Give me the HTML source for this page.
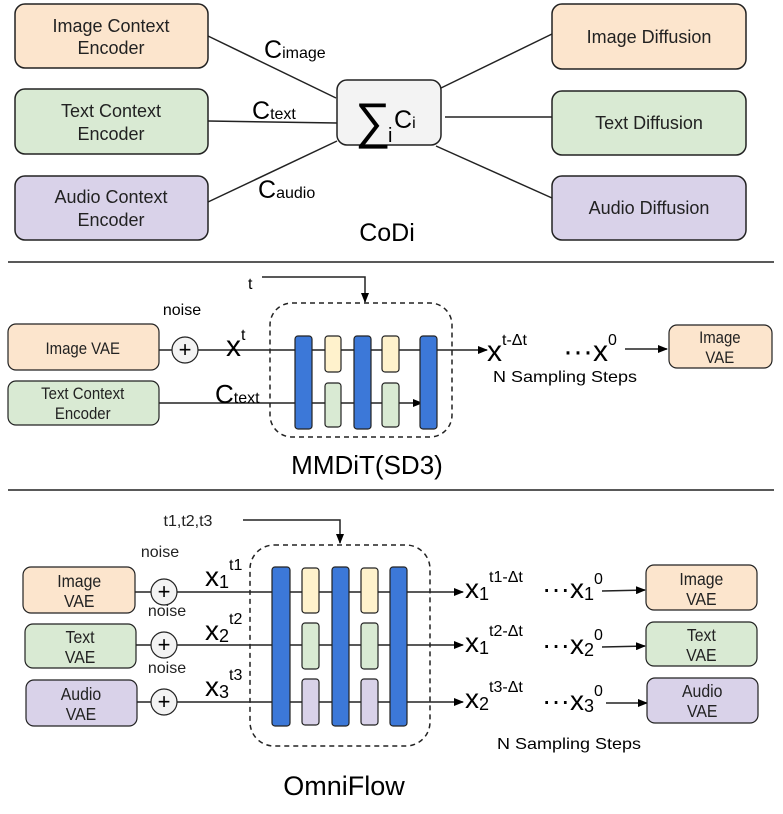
<!DOCTYPE html>
<html><head><meta charset="utf-8"><style>
html,body{margin:0;padding:0;background:#fff;}
svg{display:block;font-family:"Liberation Sans",Arial,sans-serif;}
</style></head><body>
<svg width="783" height="814" viewBox="0 0 783 814" xmlns="http://www.w3.org/2000/svg">
<defs>
<marker id="ar" markerWidth="10" markerHeight="8" refX="9" refY="4" orient="auto" markerUnits="userSpaceOnUse">
<path d="M0,0 L10,4 L0,8 z" fill="#000"/></marker>
</defs>
<g stroke="#222" stroke-width="1.5">
<rect x="15" y="4" width="193" height="64" rx="10" fill="#fce5cd"/>
<rect x="15" y="89" width="193" height="65" rx="10" fill="#d9ead3"/>
<rect x="15" y="176" width="193" height="64" rx="10" fill="#d9d2e9"/>
<rect x="552" y="4" width="194" height="65" rx="10" fill="#fce5cd"/>
<rect x="552" y="91" width="194" height="64" rx="10" fill="#d9ead3"/>
<rect x="552" y="176" width="194" height="64" rx="10" fill="#d9d2e9"/>
<line x1="208" y1="36" x2="336" y2="98"/>
<line x1="208" y1="121" x2="337" y2="123"/>
<line x1="208" y1="202" x2="337" y2="141"/>
<line x1="441" y1="88" x2="552" y2="34"/>
<line x1="445" y1="117" x2="552" y2="117"/>
<line x1="436" y1="146" x2="552" y2="198"/>
<rect x="337" y="80" width="104" height="65" rx="10" fill="#f3f3f3"/>
</g>
<g font-size="18" fill="#222" text-anchor="middle">
<text x="111" y="32">Image Context</text><text x="111" y="54">Encoder</text>
<text x="111" y="117">Text Context</text><text x="111" y="140">Encoder</text>
<text x="111" y="203">Audio Context</text><text x="111" y="226">Encoder</text>
<text x="649" y="43">Image Diffusion</text>
<text x="649" y="129">Text Diffusion</text>
<text x="649" y="214">Audio Diffusion</text>
</g>
<text x="264" y="58" font-size="25">C<tspan font-size="16">image</tspan></text>
<text x="252" y="119" font-size="25">C<tspan font-size="16">text</tspan></text>
<text x="258" y="198" font-size="25">C<tspan font-size="16">audio</tspan></text>
<text x="355" y="138" font-size="50">∑</text>
<text x="388" y="142" font-size="20">i</text>
<text x="394" y="128" font-size="25">C<tspan font-size="16">i</tspan></text>
<text x="387" y="241" font-size="25" text-anchor="middle">CoDi</text>
<line x1="8" y1="262" x2="774" y2="262" stroke="#222" stroke-width="1.5"/>

<g stroke="#222" stroke-width="1.5" fill="none">
<polyline points="262,277 365,277 365,302" marker-end="url(#ar)"/>
<rect x="270" y="303" width="182" height="134" rx="22" stroke-dasharray="5,4"/>
<line x1="159" y1="350" x2="487" y2="350" marker-end="url(#ar)"/>
<line x1="159" y1="403" x2="422" y2="403" marker-end="url(#ar)"/>
<line x1="625" y1="349" x2="667" y2="349" marker-end="url(#ar)"/>
</g>
<g stroke="#222" stroke-width="1.2">
<rect x="8" y="324" width="151" height="46" rx="8" fill="#fce5cd"/>
<rect x="8" y="381" width="151" height="44" rx="8" fill="#d9ead3"/>
<rect x="669" y="325" width="103" height="43" rx="8" fill="#fce5cd"/>
<circle cx="185" cy="350" r="13" fill="#f3f3f3"/>
<rect x="325" y="336" width="16" height="36" rx="3" fill="#fff2cc"/>
<rect x="382" y="336" width="17" height="36" rx="3" fill="#fff2cc"/>
<rect x="325" y="383" width="16" height="44" rx="3" fill="#d9ead3"/>
<rect x="382" y="383" width="17" height="44" rx="3" fill="#d9ead3"/>
<rect x="295" y="336" width="17" height="93" rx="3" fill="#3c78d8"/>
<rect x="354" y="336" width="17" height="93" rx="3" fill="#3c78d8"/>
<rect x="420" y="336" width="17" height="93" rx="3" fill="#3c78d8"/>
</g>
<text x="185" y="357" font-size="22" text-anchor="middle">+</text>
<g font-size="17" fill="#222" text-anchor="middle" transform="scale(0.88,1)">
<text x="94" y="354">Image VAE</text>
<text x="94" y="399">Text Context</text><text x="94" y="419">Encoder</text>
<text x="818" y="343">Image</text><text x="818" y="363">VAE</text>
</g>
<text x="248" y="289" font-size="16">t</text>
<text x="182" y="315" font-size="16" text-anchor="middle">noise</text>
<text x="226" y="356" font-size="30">x<tspan font-size="16" dy="-16">t</tspan></text>
<text x="215" y="403" font-size="26">C<tspan font-size="16">text</tspan></text>
<text x="487" y="361" font-size="30">x<tspan font-size="16" dy="-16">t-Δt</tspan></text>
<text x="563" y="361" font-size="30">···x<tspan font-size="16" dy="-16">0</tspan></text>
<text x="493" y="382" font-size="16" textLength="144" lengthAdjust="spacingAndGlyphs">N Sampling Steps</text>
<text x="367" y="474" font-size="26" text-anchor="middle">MMDiT(SD3)</text>
<line x1="8" y1="490" x2="774" y2="490" stroke="#222" stroke-width="1.5"/>

<g stroke="#222" stroke-width="1.5" fill="none">
<polyline points="243,520 340,520 340,543" marker-end="url(#ar)"/>
<rect x="250" y="545" width="180" height="201" rx="24" stroke-dasharray="5,4"/>
<line x1="135" y1="592" x2="463" y2="592" marker-end="url(#ar)"/>
<line x1="136" y1="645" x2="463" y2="645" marker-end="url(#ar)"/>
<line x1="137" y1="702" x2="463" y2="702" marker-end="url(#ar)"/>
<line x1="602" y1="591" x2="645" y2="590" marker-end="url(#ar)"/>
<line x1="602" y1="647" x2="645" y2="646" marker-end="url(#ar)"/>
<line x1="606" y1="703" x2="647" y2="703" marker-end="url(#ar)"/>
</g>
<g stroke="#222" stroke-width="1.2">
<rect x="23" y="567" width="112" height="46" rx="8" fill="#fce5cd"/>
<rect x="25" y="624" width="111" height="44" rx="8" fill="#d9ead3"/>
<rect x="26" y="680" width="111" height="46" rx="8" fill="#d9d2e9"/>
<rect x="646" y="565" width="111" height="45" rx="8" fill="#fce5cd"/>
<rect x="646" y="622" width="111" height="44" rx="8" fill="#d9ead3"/>
<rect x="647" y="678" width="111" height="45" rx="8" fill="#d9d2e9"/>
<circle cx="164" cy="592" r="13" fill="#f3f3f3"/>
<circle cx="164" cy="645" r="13" fill="#f3f3f3"/>
<circle cx="164" cy="702" r="13" fill="#f3f3f3"/>
<rect x="302" y="568" width="17" height="45" rx="3" fill="#fff2cc"/>
<rect x="361" y="568" width="17" height="45" rx="3" fill="#fff2cc"/>
<rect x="302" y="623" width="17" height="46" rx="3" fill="#d9ead3"/>
<rect x="361" y="623" width="17" height="46" rx="3" fill="#d9ead3"/>
<rect x="302" y="679" width="17" height="46" rx="3" fill="#d9d2e9"/>
<rect x="361" y="679" width="17" height="46" rx="3" fill="#d9d2e9"/>
<rect x="272" y="567" width="18" height="159" rx="3" fill="#3c78d8"/>
<rect x="332" y="567" width="17" height="159" rx="3" fill="#3c78d8"/>
<rect x="390" y="567" width="17" height="159" rx="3" fill="#3c78d8"/>
</g>
<g font-size="22" text-anchor="middle">
<text x="164" y="599">+</text><text x="164" y="652">+</text><text x="164" y="709">+</text>
</g>
<g font-size="18" fill="#222" text-anchor="middle" transform="scale(0.88,1)">
<text x="90" y="587">Image</text><text x="90" y="607">VAE</text>
<text x="91" y="643">Text</text><text x="91" y="663">VAE</text>
<text x="92" y="700">Audio</text><text x="92" y="720">VAE</text>
<text x="797" y="585">Image</text><text x="797" y="605">VAE</text>
<text x="797" y="641">Text</text><text x="797" y="661">VAE</text>
<text x="798" y="697">Audio</text><text x="798" y="717">VAE</text>
</g>
<g font-size="16" fill="#222" text-anchor="middle">
<text x="188" y="526">t1,t2,t3</text>
<text x="160" y="557">noise</text>
<text x="167" y="616">noise</text>
<text x="167" y="673">noise</text>
</g>
<g font-size="28">
<text x="205" y="586">x<tspan font-size="18" dy="2">1</tspan><tspan font-size="16" dy="-18">t1</tspan></text>
<text x="205" y="640">x<tspan font-size="18" dy="2">2</tspan><tspan font-size="16" dy="-18">t2</tspan></text>
<text x="205" y="696">x<tspan font-size="18" dy="2">3</tspan><tspan font-size="16" dy="-18">t3</tspan></text>
<text x="465" y="598">x<tspan font-size="18" dy="2">1</tspan><tspan font-size="16" dy="-18">t1-Δt</tspan></text>
<text x="465" y="652">x<tspan font-size="18" dy="2">1</tspan><tspan font-size="16" dy="-18">t2-Δt</tspan></text>
<text x="465" y="708">x<tspan font-size="18" dy="2">2</tspan><tspan font-size="16" dy="-18">t3-Δt</tspan></text>
<text x="542" y="598">···x<tspan font-size="18" dy="2">1</tspan><tspan font-size="16" dy="-16">0</tspan></text>
<text x="542" y="654">···x<tspan font-size="18" dy="2">2</tspan><tspan font-size="16" dy="-16">0</tspan></text>
<text x="542" y="710">···x<tspan font-size="18" dy="2">3</tspan><tspan font-size="16" dy="-16">0</tspan></text>
</g>
<text x="497" y="749" font-size="16" textLength="144" lengthAdjust="spacingAndGlyphs">N Sampling Steps</text>
<text x="344" y="795" font-size="27" text-anchor="middle">OmniFlow</text>
</svg>
</body></html>
